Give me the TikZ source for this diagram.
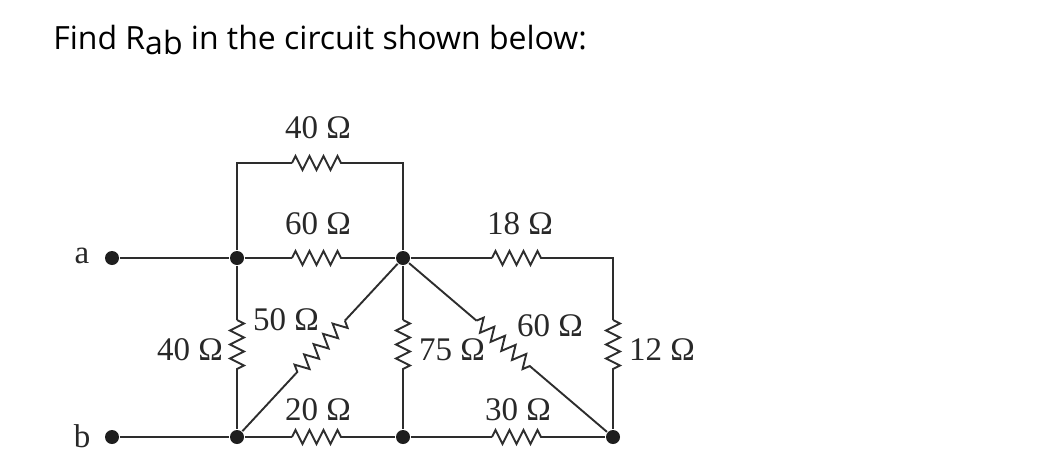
\documentclass[tikz,border=0pt]{standalone}
\usepackage{fontspec}
\setmainfont{Liberation Serif}
\newfontfamily\titlefont{Open Sans}
\usetikzlibrary{decorations.pathmorphing,calc}
\begin{document}
\begin{tikzpicture}[x=1pt,y=-1pt,line width=1.9pt,draw={rgb,255:red,45;green,45;blue,45},
  zz/.style={decorate,decoration={zigzag,segment length=14pt,amplitude=7pt}},
  dot/.style={circle,fill={rgb,255:red,30;green,30;blue,30},inner sep=0pt,minimum size=14pt},
  lbl/.style={font=\fontsize{33}{33}\selectfont,text={rgb,255:red,40;green,40;blue,40}}]
\useasboundingbox (0,0) rectangle (1056,471);
\node[anchor=west,font=\titlefont\fontsize{32}{32}\selectfont] (t) at (49,40) {Find R\raisebox{-0.35ex}{ab} in the circuit shown below:};
% nodes
\coordinate (TL) at (237,163); \coordinate (TR) at (403,163);
\node[dot] (A) at (237,258) {}; \node[dot] (C) at (403,258) {};
\coordinate (R) at (613,258);
\node[dot] (B) at (237,437) {}; \node[dot] (D) at (403,437) {};
\node[dot] (E) at (613,437) {};
\node[dot] (ta) at (112,258) {}; \node[dot] (tb) at (112,437) {};
\node[lbl] (la) at (82,256) {a}; \node[lbl] (lb) at (82,436) {b};
\draw (ta) -- (A); \draw (tb) -- (B);
% top 40
\draw (A) -- (TL) -- (292,163); \draw[zz] (292,163) -- (347,163); \draw (347,163) -- (TR) -- (C);
% 60 horizontal
\draw (A) -- (292,258); \draw[zz] (292,258) -- (347,258); \draw (347,258) -- (C);
% 18
\draw (C) -- (492,258); \draw[zz] (492,258) -- (547,258); \draw (547,258) -- (R) -- (613,320);
\draw[zz] (613,320) -- (613,375); \draw (613,375) -- (E);
% left 40
\draw (A) -- (237,320); \draw[zz] (237,320) -- (237,375); \draw (237,375) -- (B);
% 75
\draw (C) -- (403,320); \draw[zz] (403,320) -- (403,375); \draw (403,375) -- (D);
% 20, 30
\draw (B) -- (292,437); \draw[zz] (292,437) -- (347,437); \draw (347,437) -- (D);
\draw (D) -- (492,437); \draw[zz] (492,437) -- (547,437); \draw (547,437) -- (E);
% diagonals
\draw (C) -- ($(C)!0.35!(B)$); \draw[zz] ($(C)!0.35!(B)$) -- ($(C)!0.65!(B)$); \draw ($(C)!0.65!(B)$) -- (B);
\draw (C) -- ($(C)!0.35!(E)$); \draw[zz] ($(C)!0.35!(E)$) -- ($(C)!0.62!(E)$); \draw ($(C)!0.62!(E)$) -- (E);
% labels
\node[lbl] (l1) at (318,128) {40 Ω};
\node[lbl] (l2) at (318,224) {60 Ω};
\node[lbl] (l3) at (520,224) {18 Ω};
\node[lbl] (l4) at (190,350) {40 Ω};
\node[lbl] (l5) at (286,320) {50 Ω};
\node[lbl] (l6) at (452,350) {75 Ω};
\node[lbl] (l7) at (550,326) {60 Ω};
\node[lbl] (l8) at (662,350) {12 Ω};
\node[lbl] (l9) at (318,410) {20 Ω};
\node[lbl] (l10) at (518,410) {30 Ω};
\end{tikzpicture}
\end{document}
